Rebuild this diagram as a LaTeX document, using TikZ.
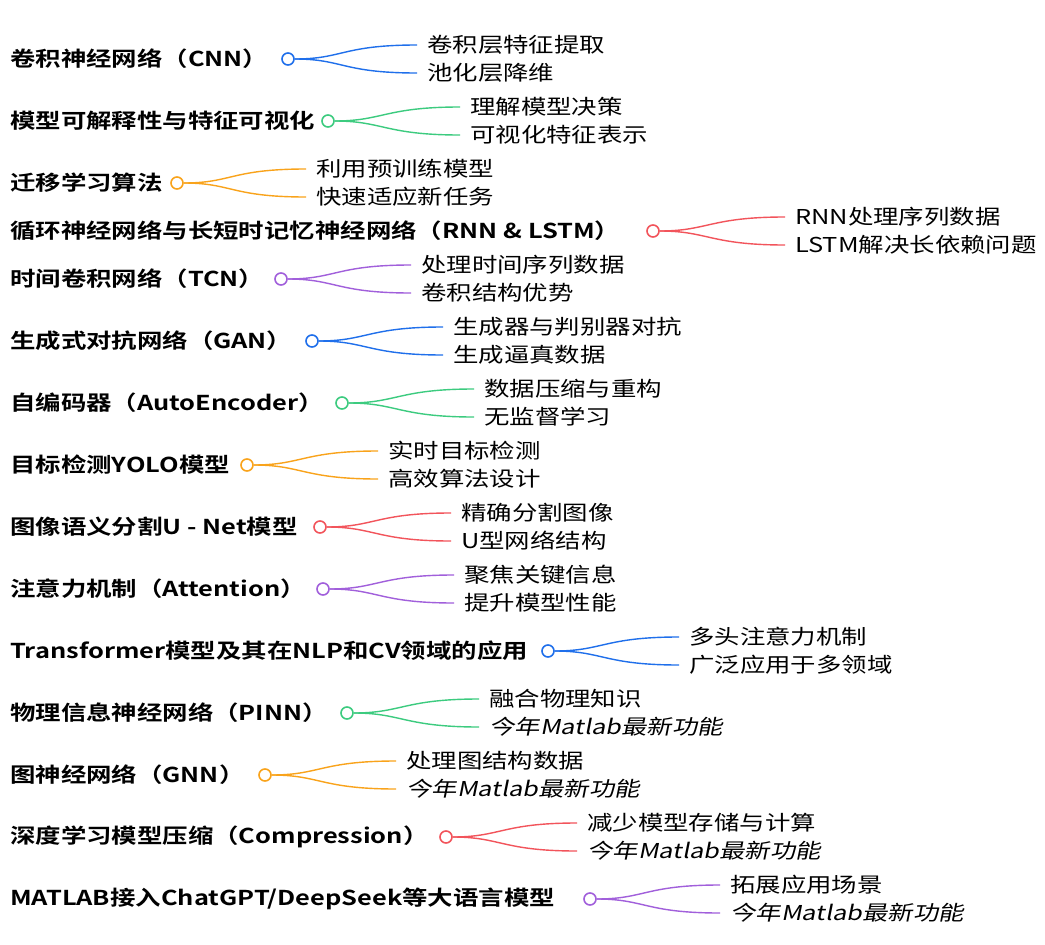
\documentclass[tikz,border=0pt]{standalone}
\usepackage{fontspec}
\setmainfont[FakeStretch=1.24]{Noto Sans CJK SC}
\newfontfamily\pfont[FakeStretch=1.24]{Noto Sans CJK SC Bold}
\newfontfamily\ifont[FakeSlant=0.2,FakeStretch=1.24]{Noto Sans CJK SC}
\definecolor{cA}{HTML}{1F6FEB}
\definecolor{cB}{HTML}{3CCB7F}
\definecolor{cC}{HTML}{F9A31B}
\definecolor{cD}{HTML}{F2545B}
\definecolor{cE}{HTML}{A15FDB}
\tikzset{
 parent/.style={anchor=west,inner sep=0pt,font=\pfont\fontsize{20.5}{24}\selectfont},
 child/.style={anchor=west,inner sep=0pt,font=\fontsize{20.5}{24}\selectfont},
 dot/.style={circle,draw,fill=white,line width=1.6pt,minimum size=12pt,inner sep=0pt},
 link/.style={line width=1.4pt}
}
\begin{document}
\begin{tikzpicture}[x=1pt,y=-1pt]
\useasboundingbox[fill=white] (0,0) rectangle (1045,945);
\foreach \n/\y/\cx/\tx/\col/\P/\A/\B in {
 1/59/288/427/cA/{卷积神经网络（CNN）}/{卷积层特征提取}/{池化层降维},
 2/121/328/470/cB/{模型可解释性与特征可视化}/{理解模型决策}/{可视化特征表示},
 3/183/177/316/cC/{迁移学习算法}/{利用预训练模型}/{快速适应新任务},
 4/231/653/795/cD/{循环神经网络与长短时记忆神经网络（RNN \& LSTM）}/{RNN处理序列数据}/{LSTM解决长依赖问题},
 5/279/281/421/cE/{时间卷积网络（TCN）}/{处理时间序列数据}/{卷积结构优势},
 6/341/312/453/cA/{生成式对抗网络（GAN）}/{生成器与判别器对抗}/{生成逼真数据},
 7/403/342/484/cB/{自编码器（AutoEncoder）}/{数据压缩与重构}/{无监督学习},
 8/465/247/388/cC/{目标检测YOLO模型}/{实时目标检测}/{高效算法设计},
 9/527/320/461/cD/{图像语义分割U - Net模型}/{精确分割图像}/{U型网络结构},
 10/589/323/464/cE/{注意力机制（Attention）}/{聚焦关键信息}/{提升模型性能},
 11/651/548/689/cA/{Transformer模型及其在NLP和CV领域的应用}/{多头注意力机制}/{广泛应用于多领域},
 12/713/347/489/cB/{物理信息神经网络（PINN）}/{融合物理知识}/{\ifont 今年Matlab最新功能},
 13/775/265/406/cC/{图神经网络（GNN）}/{处理图结构数据}/{\ifont 今年Matlab最新功能},
 14/837/446/587/cD/{深度学习模型压缩（Compression）}/{减少模型存储与计算}/{\ifont 今年Matlab最新功能},
 15/899/590/730/cE/{MATLAB接入ChatGPT/DeepSeek等大语言模型}/{拓展应用场景}/{\ifont 今年Matlab最新功能}}
{
 \node[dot,draw=\col] (d\n) at (\cx,\y) {};
 \node[parent] (p\n) at (10,\y) {\P};
 \node[child] (a\n) at (\tx,\y-14) {\A};
 \node[child] (b\n) at (\tx,\y+14) {\B};
 \coordinate (ea\n) at (\tx-10,\y-14);
 \coordinate (eb\n) at (\tx-10,\y+14);
 \draw[link,\col] (d\n.east) .. controls (\cx+55,\y) and (\tx-85,\y-14) .. (ea\n);
 \draw[link,\col] (d\n.east) .. controls (\cx+55,\y) and (\tx-85,\y+14) .. (eb\n);
}
\end{tikzpicture}
\end{document}
